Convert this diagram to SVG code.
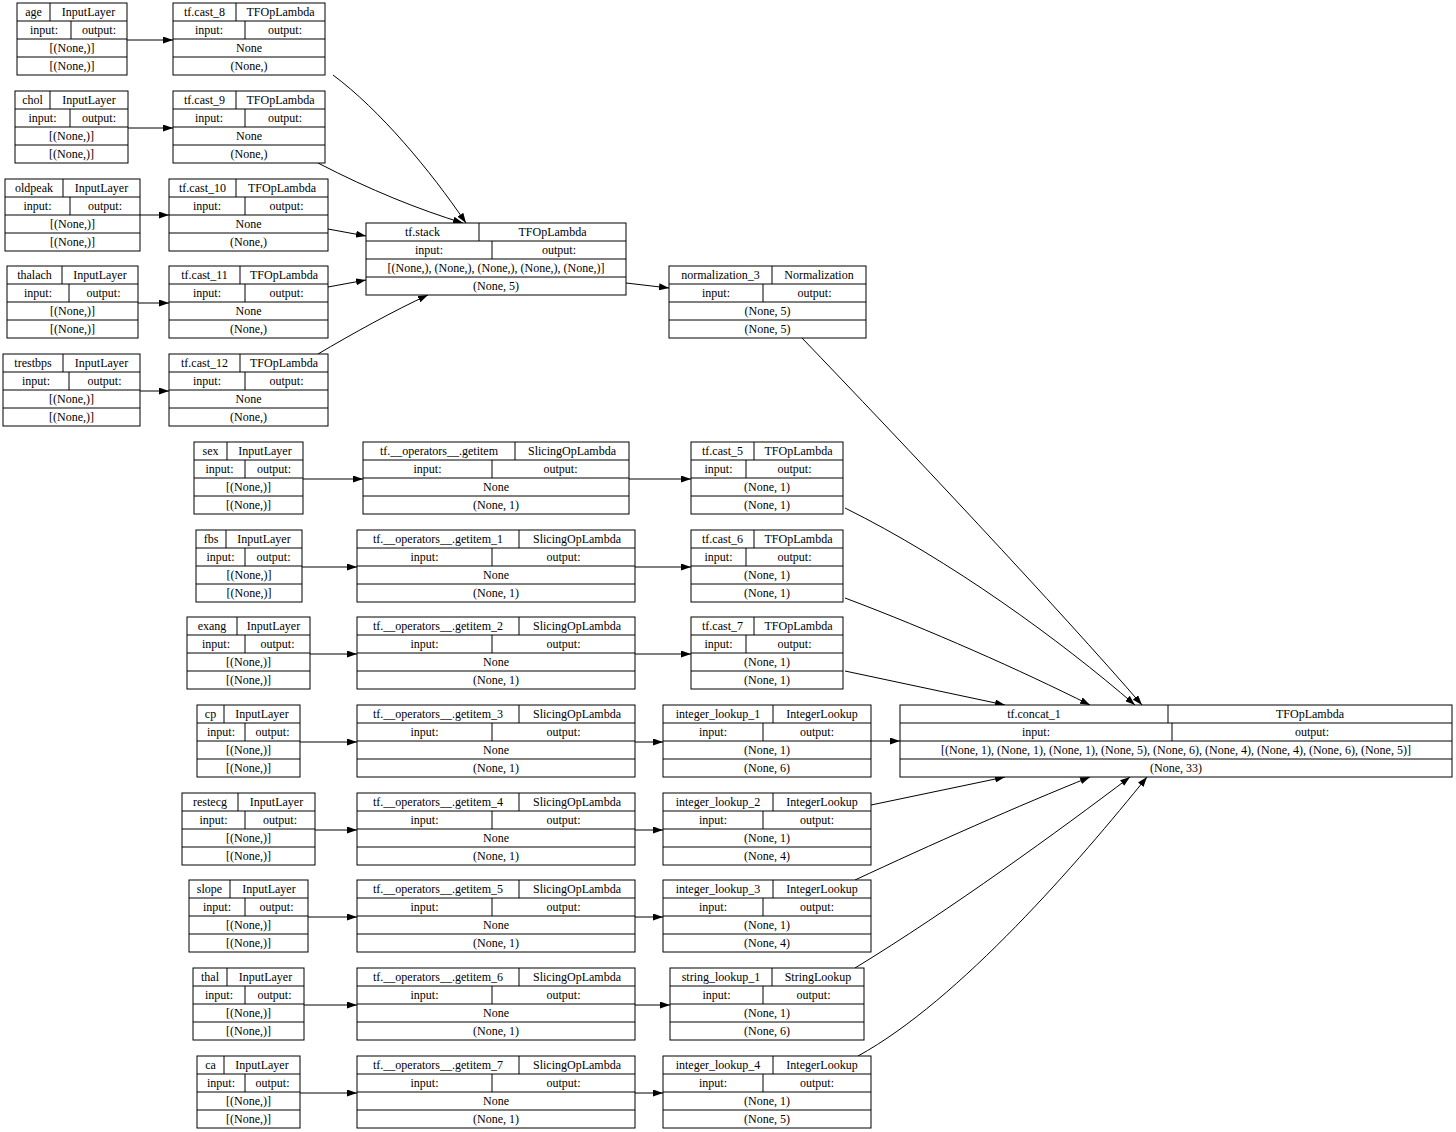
<svg xmlns="http://www.w3.org/2000/svg" width="1456" height="1132" viewBox="0 0 1456 1132">
<defs>
<style>
rect{fill:#fff;stroke:#000;stroke-width:1}
.n line{stroke:#000;stroke-width:1}
text{font-family:"Liberation Serif","DejaVu Serif",serif;font-size:12px;text-anchor:middle;fill:#000}
.e path{fill:none;stroke:#000;stroke-width:1;marker-end:url(#a)}
</style>
<marker id="a" markerWidth="10" markerHeight="7" refX="10" refY="3.5" orient="auto" markerUnits="userSpaceOnUse"><path d="M0,0 L10,3.5 L0,7z" fill="#000"/></marker>
</defs>
<rect x="0" y="0" width="1456" height="1132" style="stroke:none"/>

<g class="e" id="edges">
<path d="M127,40 L173,40"/>
<path d="M128,128 L173,128"/>
<path d="M140,215 L169,215"/>
<path d="M138,303 L169,303"/>
<path d="M140,391 L169,391"/>
<path d="M333,75 C380,110 430,170 466,223"/>
<path d="M318,163 C370,190 420,210 463,223"/>
<path d="M328,229 L366,236"/>
<path d="M328,287 L366,280"/>
<path d="M318,354 C350,335 395,310 428,295"/>
<path d="M626,283 L669,288"/>
<path d="M802,338 C900,440 1060,610 1142,705"/>
<path d="M303,479 L363,479"/>
<path d="M629,479 L691,479"/>
<path d="M302,567 L357,567"/>
<path d="M635,567 L691,567"/>
<path d="M310,654 L357,654"/>
<path d="M635,654 L691,654"/>
<path d="M300,742 L357,742"/>
<path d="M635,742 L663,742"/>
<path d="M315,830 L357,830"/>
<path d="M635,830 L663,830"/>
<path d="M308,917 L357,917"/>
<path d="M635,917 L663,917"/>
<path d="M304,1005 L357,1005"/>
<path d="M635,1005 L670,1005"/>
<path d="M300,1093 L357,1093"/>
<path d="M635,1093 L663,1093"/>
<path d="M845,508 C950,560 1060,640 1135,705"/>
<path d="M845,598 C930,630 1020,670 1090,705"/>
<path d="M845,671 L1005,705"/>
<path d="M871,741 L900,741"/>
<path d="M871,805 L1005,777"/>
<path d="M855,880 C930,845 1020,805 1090,777"/>
<path d="M855,968 C950,910 1060,830 1130,777"/>
<path d="M858,1056 C960,1000 1080,860 1147,777"/>
</g>

<g class="n" id="age" transform="translate(17,3)"><rect width="110" height="72"/><line x1="0" y1="18" x2="110" y2="18"/><line x1="0" y1="36" x2="110" y2="36"/><line x1="0" y1="54" x2="110" y2="54"/><line x1="33" y1="0" x2="33" y2="18"/><line x1="54" y1="18" x2="54" y2="36"/><text x="16.5" y="13">age</text><text x="71.5" y="13">InputLayer</text><text x="27" y="31">input:</text><text x="82" y="31">output:</text><text x="55" y="49">[(None,)]</text><text x="55" y="67">[(None,)]</text></g>
<g class="n" id="cast8" transform="translate(173,3)"><rect width="152" height="72"/><line x1="0" y1="18" x2="152" y2="18"/><line x1="0" y1="36" x2="152" y2="36"/><line x1="0" y1="54" x2="152" y2="54"/><line x1="63" y1="0" x2="63" y2="18"/><line x1="72" y1="18" x2="72" y2="36"/><text x="31.5" y="13">tf.cast_8</text><text x="107.5" y="13">TFOpLambda</text><text x="36" y="31">input:</text><text x="112" y="31">output:</text><text x="76" y="49">None</text><text x="76" y="67">(None,)</text></g>

<g class="n" id="chol" transform="translate(15,91)"><rect width="113" height="72"/><line x1="0" y1="18" x2="113" y2="18"/><line x1="0" y1="36" x2="113" y2="36"/><line x1="0" y1="54" x2="113" y2="54"/><line x1="35" y1="0" x2="35" y2="18"/><line x1="55" y1="18" x2="55" y2="36"/><text x="17.5" y="13">chol</text><text x="74" y="13">InputLayer</text><text x="27.5" y="31">input:</text><text x="84" y="31">output:</text><text x="56.5" y="49">[(None,)]</text><text x="56.5" y="67">[(None,)]</text></g>
<g class="n" id="cast9" transform="translate(173,91)"><rect width="152" height="72"/><line x1="0" y1="18" x2="152" y2="18"/><line x1="0" y1="36" x2="152" y2="36"/><line x1="0" y1="54" x2="152" y2="54"/><line x1="63" y1="0" x2="63" y2="18"/><line x1="72" y1="18" x2="72" y2="36"/><text x="31.5" y="13">tf.cast_9</text><text x="107.5" y="13">TFOpLambda</text><text x="36" y="31">input:</text><text x="112" y="31">output:</text><text x="76" y="49">None</text><text x="76" y="67">(None,)</text></g>

<g class="n" id="oldpeak" transform="translate(5,179)"><rect width="135" height="72"/><line x1="0" y1="18" x2="135" y2="18"/><line x1="0" y1="36" x2="135" y2="36"/><line x1="0" y1="54" x2="135" y2="54"/><line x1="58" y1="0" x2="58" y2="18"/><line x1="65" y1="18" x2="65" y2="36"/><text x="29" y="13">oldpeak</text><text x="96.5" y="13">InputLayer</text><text x="32.5" y="31">input:</text><text x="100" y="31">output:</text><text x="67.5" y="49">[(None,)]</text><text x="67.5" y="67">[(None,)]</text></g>
<g class="n" id="cast10" transform="translate(169,179)"><rect width="159" height="72"/><line x1="0" y1="18" x2="159" y2="18"/><line x1="0" y1="36" x2="159" y2="36"/><line x1="0" y1="54" x2="159" y2="54"/><line x1="67" y1="0" x2="67" y2="18"/><line x1="76" y1="18" x2="76" y2="36"/><text x="33.5" y="13">tf.cast_10</text><text x="113" y="13">TFOpLambda</text><text x="38" y="31">input:</text><text x="117.5" y="31">output:</text><text x="79.5" y="49">None</text><text x="79.5" y="67">(None,)</text></g>

<g class="n" id="thalach" transform="translate(7,266)"><rect width="131" height="72"/><line x1="0" y1="18" x2="131" y2="18"/><line x1="0" y1="36" x2="131" y2="36"/><line x1="0" y1="54" x2="131" y2="54"/><line x1="55" y1="0" x2="55" y2="18"/><line x1="62" y1="18" x2="62" y2="36"/><text x="27.5" y="13">thalach</text><text x="93" y="13">InputLayer</text><text x="31" y="31">input:</text><text x="96.5" y="31">output:</text><text x="65.5" y="49">[(None,)]</text><text x="65.5" y="67">[(None,)]</text></g>
<g class="n" id="cast11" transform="translate(169,266)"><rect width="159" height="72"/><line x1="0" y1="18" x2="159" y2="18"/><line x1="0" y1="36" x2="159" y2="36"/><line x1="0" y1="54" x2="159" y2="54"/><line x1="71" y1="0" x2="71" y2="18"/><line x1="76" y1="18" x2="76" y2="36"/><text x="35.5" y="13">tf.cast_11</text><text x="115" y="13">TFOpLambda</text><text x="38" y="31">input:</text><text x="117.5" y="31">output:</text><text x="79.5" y="49">None</text><text x="79.5" y="67">(None,)</text></g>

<g class="n" id="trestbps" transform="translate(3,354)"><rect width="137" height="72"/><line x1="0" y1="18" x2="137" y2="18"/><line x1="0" y1="36" x2="137" y2="36"/><line x1="0" y1="54" x2="137" y2="54"/><line x1="60" y1="0" x2="60" y2="18"/><line x1="66" y1="18" x2="66" y2="36"/><text x="30" y="13">trestbps</text><text x="98.5" y="13">InputLayer</text><text x="33" y="31">input:</text><text x="101.5" y="31">output:</text><text x="68.5" y="49">[(None,)]</text><text x="68.5" y="67">[(None,)]</text></g>
<g class="n" id="cast12" transform="translate(169,354)"><rect width="159" height="72"/><line x1="0" y1="18" x2="159" y2="18"/><line x1="0" y1="36" x2="159" y2="36"/><line x1="0" y1="54" x2="159" y2="54"/><line x1="71" y1="0" x2="71" y2="18"/><line x1="76" y1="18" x2="76" y2="36"/><text x="35.5" y="13">tf.cast_12</text><text x="115" y="13">TFOpLambda</text><text x="38" y="31">input:</text><text x="117.5" y="31">output:</text><text x="79.5" y="49">None</text><text x="79.5" y="67">(None,)</text></g>

<g class="n" id="stack" transform="translate(366,223)"><rect width="260" height="72"/><line x1="0" y1="18" x2="260" y2="18"/><line x1="0" y1="36" x2="260" y2="36"/><line x1="0" y1="54" x2="260" y2="54"/><line x1="113" y1="0" x2="113" y2="18"/><line x1="126" y1="18" x2="126" y2="36"/><text x="56.5" y="13">tf.stack</text><text x="186.5" y="13">TFOpLambda</text><text x="63" y="31">input:</text><text x="193" y="31">output:</text><text x="130" y="49">[(None,), (None,), (None,), (None,), (None,)]</text><text x="130" y="67">(None, 5)</text></g>

<g class="n" id="norm" transform="translate(669,266)"><rect width="197" height="72"/><line x1="0" y1="18" x2="197" y2="18"/><line x1="0" y1="36" x2="197" y2="36"/><line x1="0" y1="54" x2="197" y2="54"/><line x1="103" y1="0" x2="103" y2="18"/><line x1="94" y1="18" x2="94" y2="36"/><text x="51.5" y="13">normalization_3</text><text x="150" y="13">Normalization</text><text x="47" y="31">input:</text><text x="145.5" y="31">output:</text><text x="98.5" y="49">(None, 5)</text><text x="98.5" y="67">(None, 5)</text></g>

<g class="n" id="sex" transform="translate(194,442)"><rect width="109" height="72"/><line x1="0" y1="18" x2="109" y2="18"/><line x1="0" y1="36" x2="109" y2="36"/><line x1="0" y1="54" x2="109" y2="54"/><line x1="33" y1="0" x2="33" y2="18"/><line x1="51" y1="18" x2="51" y2="36"/><text x="16.5" y="13">sex</text><text x="71" y="13">InputLayer</text><text x="25.5" y="31">input:</text><text x="80" y="31">output:</text><text x="54.5" y="49">[(None,)]</text><text x="54.5" y="67">[(None,)]</text></g>
<g class="n" id="getitem" transform="translate(363,442)"><rect width="266" height="72"/><line x1="0" y1="18" x2="266" y2="18"/><line x1="0" y1="36" x2="266" y2="36"/><line x1="0" y1="54" x2="266" y2="54"/><line x1="152" y1="0" x2="152" y2="18"/><line x1="129" y1="18" x2="129" y2="36"/><text x="76" y="13">tf.__operators__.getitem</text><text x="209" y="13">SlicingOpLambda</text><text x="64.5" y="31">input:</text><text x="197.5" y="31">output:</text><text x="133" y="49">None</text><text x="133" y="67">(None, 1)</text></g>
<g class="n" id="cast5" transform="translate(691,442)"><rect width="152" height="72"/><line x1="0" y1="18" x2="152" y2="18"/><line x1="0" y1="36" x2="152" y2="36"/><line x1="0" y1="54" x2="152" y2="54"/><line x1="63" y1="0" x2="63" y2="18"/><line x1="55" y1="18" x2="55" y2="36"/><text x="31.5" y="13">tf.cast_5</text><text x="107.5" y="13">TFOpLambda</text><text x="27.5" y="31">input:</text><text x="103.5" y="31">output:</text><text x="76" y="49">(None, 1)</text><text x="76" y="67">(None, 1)</text></g>

<g class="n" id="fbs" transform="translate(196,530)"><rect width="106" height="72"/><line x1="0" y1="18" x2="106" y2="18"/><line x1="0" y1="36" x2="106" y2="36"/><line x1="0" y1="54" x2="106" y2="54"/><line x1="30" y1="0" x2="30" y2="18"/><line x1="49" y1="18" x2="49" y2="36"/><text x="15" y="13">fbs</text><text x="68" y="13">InputLayer</text><text x="24.5" y="31">input:</text><text x="77.5" y="31">output:</text><text x="53" y="49">[(None,)]</text><text x="53" y="67">[(None,)]</text></g>
<g class="n" id="getitem1" transform="translate(357,530)"><rect width="278" height="72"/><line x1="0" y1="18" x2="278" y2="18"/><line x1="0" y1="36" x2="278" y2="36"/><line x1="0" y1="54" x2="278" y2="54"/><line x1="162" y1="0" x2="162" y2="18"/><line x1="135" y1="18" x2="135" y2="36"/><text x="81" y="13">tf.__operators__.getitem_1</text><text x="220" y="13">SlicingOpLambda</text><text x="67.5" y="31">input:</text><text x="206.5" y="31">output:</text><text x="139" y="49">None</text><text x="139" y="67">(None, 1)</text></g>
<g class="n" id="cast6" transform="translate(691,530)"><rect width="152" height="72"/><line x1="0" y1="18" x2="152" y2="18"/><line x1="0" y1="36" x2="152" y2="36"/><line x1="0" y1="54" x2="152" y2="54"/><line x1="63" y1="0" x2="63" y2="18"/><line x1="55" y1="18" x2="55" y2="36"/><text x="31.5" y="13">tf.cast_6</text><text x="107.5" y="13">TFOpLambda</text><text x="27.5" y="31">input:</text><text x="103.5" y="31">output:</text><text x="76" y="49">(None, 1)</text><text x="76" y="67">(None, 1)</text></g>

<g class="n" id="exang" transform="translate(187,617)"><rect width="123" height="72"/><line x1="0" y1="18" x2="123" y2="18"/><line x1="0" y1="36" x2="123" y2="36"/><line x1="0" y1="54" x2="123" y2="54"/><line x1="50" y1="0" x2="50" y2="18"/><line x1="58" y1="18" x2="58" y2="36"/><text x="25" y="13">exang</text><text x="86.5" y="13">InputLayer</text><text x="29" y="31">input:</text><text x="90.5" y="31">output:</text><text x="61.5" y="49">[(None,)]</text><text x="61.5" y="67">[(None,)]</text></g>
<g class="n" id="getitem2" transform="translate(357,617)"><rect width="278" height="72"/><line x1="0" y1="18" x2="278" y2="18"/><line x1="0" y1="36" x2="278" y2="36"/><line x1="0" y1="54" x2="278" y2="54"/><line x1="162" y1="0" x2="162" y2="18"/><line x1="135" y1="18" x2="135" y2="36"/><text x="81" y="13">tf.__operators__.getitem_2</text><text x="220" y="13">SlicingOpLambda</text><text x="67.5" y="31">input:</text><text x="206.5" y="31">output:</text><text x="139" y="49">None</text><text x="139" y="67">(None, 1)</text></g>
<g class="n" id="cast7" transform="translate(691,617)"><rect width="152" height="72"/><line x1="0" y1="18" x2="152" y2="18"/><line x1="0" y1="36" x2="152" y2="36"/><line x1="0" y1="54" x2="152" y2="54"/><line x1="63" y1="0" x2="63" y2="18"/><line x1="55" y1="18" x2="55" y2="36"/><text x="31.5" y="13">tf.cast_7</text><text x="107.5" y="13">TFOpLambda</text><text x="27.5" y="31">input:</text><text x="103.5" y="31">output:</text><text x="76" y="49">(None, 1)</text><text x="76" y="67">(None, 1)</text></g>

<g class="n" id="cp" transform="translate(197,705)"><rect width="103" height="72"/><line x1="0" y1="18" x2="103" y2="18"/><line x1="0" y1="36" x2="103" y2="36"/><line x1="0" y1="54" x2="103" y2="54"/><line x1="27" y1="0" x2="27" y2="18"/><line x1="48" y1="18" x2="48" y2="36"/><text x="13.5" y="13">cp</text><text x="65" y="13">InputLayer</text><text x="24" y="31">input:</text><text x="75.5" y="31">output:</text><text x="51.5" y="49">[(None,)]</text><text x="51.5" y="67">[(None,)]</text></g>
<g class="n" id="getitem3" transform="translate(357,705)"><rect width="278" height="72"/><line x1="0" y1="18" x2="278" y2="18"/><line x1="0" y1="36" x2="278" y2="36"/><line x1="0" y1="54" x2="278" y2="54"/><line x1="162" y1="0" x2="162" y2="18"/><line x1="135" y1="18" x2="135" y2="36"/><text x="81" y="13">tf.__operators__.getitem_3</text><text x="220" y="13">SlicingOpLambda</text><text x="67.5" y="31">input:</text><text x="206.5" y="31">output:</text><text x="139" y="49">None</text><text x="139" y="67">(None, 1)</text></g>
<g class="n" id="il1" transform="translate(663,705)"><rect width="208" height="72"/><line x1="0" y1="18" x2="208" y2="18"/><line x1="0" y1="36" x2="208" y2="36"/><line x1="0" y1="54" x2="208" y2="54"/><line x1="110" y1="0" x2="110" y2="18"/><line x1="100" y1="18" x2="100" y2="36"/><text x="55" y="13">integer_lookup_1</text><text x="159" y="13">IntegerLookup</text><text x="50" y="31">input:</text><text x="154" y="31">output:</text><text x="104" y="49">(None, 1)</text><text x="104" y="67">(None, 6)</text></g>

<g class="n" id="restecg" transform="translate(182,793)"><rect width="133" height="72"/><line x1="0" y1="18" x2="133" y2="18"/><line x1="0" y1="36" x2="133" y2="36"/><line x1="0" y1="54" x2="133" y2="54"/><line x1="56" y1="0" x2="56" y2="18"/><line x1="63" y1="18" x2="63" y2="36"/><text x="28" y="13">restecg</text><text x="94.5" y="13">InputLayer</text><text x="31.5" y="31">input:</text><text x="98" y="31">output:</text><text x="66.5" y="49">[(None,)]</text><text x="66.5" y="67">[(None,)]</text></g>
<g class="n" id="getitem4" transform="translate(357,793)"><rect width="278" height="72"/><line x1="0" y1="18" x2="278" y2="18"/><line x1="0" y1="36" x2="278" y2="36"/><line x1="0" y1="54" x2="278" y2="54"/><line x1="162" y1="0" x2="162" y2="18"/><line x1="135" y1="18" x2="135" y2="36"/><text x="81" y="13">tf.__operators__.getitem_4</text><text x="220" y="13">SlicingOpLambda</text><text x="67.5" y="31">input:</text><text x="206.5" y="31">output:</text><text x="139" y="49">None</text><text x="139" y="67">(None, 1)</text></g>
<g class="n" id="il2" transform="translate(663,793)"><rect width="208" height="72"/><line x1="0" y1="18" x2="208" y2="18"/><line x1="0" y1="36" x2="208" y2="36"/><line x1="0" y1="54" x2="208" y2="54"/><line x1="110" y1="0" x2="110" y2="18"/><line x1="100" y1="18" x2="100" y2="36"/><text x="55" y="13">integer_lookup_2</text><text x="159" y="13">IntegerLookup</text><text x="50" y="31">input:</text><text x="154" y="31">output:</text><text x="104" y="49">(None, 1)</text><text x="104" y="67">(None, 4)</text></g>

<g class="n" id="slope" transform="translate(189,880)"><rect width="119" height="72"/><line x1="0" y1="18" x2="119" y2="18"/><line x1="0" y1="36" x2="119" y2="36"/><line x1="0" y1="54" x2="119" y2="54"/><line x1="41" y1="0" x2="41" y2="18"/><line x1="56" y1="18" x2="56" y2="36"/><text x="20.5" y="13">slope</text><text x="80" y="13">InputLayer</text><text x="28" y="31">input:</text><text x="87.5" y="31">output:</text><text x="59.5" y="49">[(None,)]</text><text x="59.5" y="67">[(None,)]</text></g>
<g class="n" id="getitem5" transform="translate(357,880)"><rect width="278" height="72"/><line x1="0" y1="18" x2="278" y2="18"/><line x1="0" y1="36" x2="278" y2="36"/><line x1="0" y1="54" x2="278" y2="54"/><line x1="162" y1="0" x2="162" y2="18"/><line x1="135" y1="18" x2="135" y2="36"/><text x="81" y="13">tf.__operators__.getitem_5</text><text x="220" y="13">SlicingOpLambda</text><text x="67.5" y="31">input:</text><text x="206.5" y="31">output:</text><text x="139" y="49">None</text><text x="139" y="67">(None, 1)</text></g>
<g class="n" id="il3" transform="translate(663,880)"><rect width="208" height="72"/><line x1="0" y1="18" x2="208" y2="18"/><line x1="0" y1="36" x2="208" y2="36"/><line x1="0" y1="54" x2="208" y2="54"/><line x1="110" y1="0" x2="110" y2="18"/><line x1="100" y1="18" x2="100" y2="36"/><text x="55" y="13">integer_lookup_3</text><text x="159" y="13">IntegerLookup</text><text x="50" y="31">input:</text><text x="154" y="31">output:</text><text x="104" y="49">(None, 1)</text><text x="104" y="67">(None, 4)</text></g>

<g class="n" id="thal" transform="translate(193,968)"><rect width="111" height="72"/><line x1="0" y1="18" x2="111" y2="18"/><line x1="0" y1="36" x2="111" y2="36"/><line x1="0" y1="54" x2="111" y2="54"/><line x1="34" y1="0" x2="34" y2="18"/><line x1="52" y1="18" x2="52" y2="36"/><text x="17" y="13">thal</text><text x="72.5" y="13">InputLayer</text><text x="26" y="31">input:</text><text x="81.5" y="31">output:</text><text x="55.5" y="49">[(None,)]</text><text x="55.5" y="67">[(None,)]</text></g>
<g class="n" id="getitem6" transform="translate(357,968)"><rect width="278" height="72"/><line x1="0" y1="18" x2="278" y2="18"/><line x1="0" y1="36" x2="278" y2="36"/><line x1="0" y1="54" x2="278" y2="54"/><line x1="162" y1="0" x2="162" y2="18"/><line x1="135" y1="18" x2="135" y2="36"/><text x="81" y="13">tf.__operators__.getitem_6</text><text x="220" y="13">SlicingOpLambda</text><text x="67.5" y="31">input:</text><text x="206.5" y="31">output:</text><text x="139" y="49">None</text><text x="139" y="67">(None, 1)</text></g>
<g class="n" id="sl1" transform="translate(670,968)"><rect width="194" height="72"/><line x1="0" y1="18" x2="194" y2="18"/><line x1="0" y1="36" x2="194" y2="36"/><line x1="0" y1="54" x2="194" y2="54"/><line x1="102" y1="0" x2="102" y2="18"/><line x1="93" y1="18" x2="93" y2="36"/><text x="51" y="13">string_lookup_1</text><text x="148" y="13">StringLookup</text><text x="46.5" y="31">input:</text><text x="143.5" y="31">output:</text><text x="97" y="49">(None, 1)</text><text x="97" y="67">(None, 6)</text></g>

<g class="n" id="ca" transform="translate(197,1056)"><rect width="103" height="72"/><line x1="0" y1="18" x2="103" y2="18"/><line x1="0" y1="36" x2="103" y2="36"/><line x1="0" y1="54" x2="103" y2="54"/><line x1="27" y1="0" x2="27" y2="18"/><line x1="48" y1="18" x2="48" y2="36"/><text x="13.5" y="13">ca</text><text x="65" y="13">InputLayer</text><text x="24" y="31">input:</text><text x="75.5" y="31">output:</text><text x="51.5" y="49">[(None,)]</text><text x="51.5" y="67">[(None,)]</text></g>
<g class="n" id="getitem7" transform="translate(357,1056)"><rect width="278" height="72"/><line x1="0" y1="18" x2="278" y2="18"/><line x1="0" y1="36" x2="278" y2="36"/><line x1="0" y1="54" x2="278" y2="54"/><line x1="162" y1="0" x2="162" y2="18"/><line x1="135" y1="18" x2="135" y2="36"/><text x="81" y="13">tf.__operators__.getitem_7</text><text x="220" y="13">SlicingOpLambda</text><text x="67.5" y="31">input:</text><text x="206.5" y="31">output:</text><text x="139" y="49">None</text><text x="139" y="67">(None, 1)</text></g>
<g class="n" id="il4" transform="translate(663,1056)"><rect width="208" height="72"/><line x1="0" y1="18" x2="208" y2="18"/><line x1="0" y1="36" x2="208" y2="36"/><line x1="0" y1="54" x2="208" y2="54"/><line x1="110" y1="0" x2="110" y2="18"/><line x1="100" y1="18" x2="100" y2="36"/><text x="55" y="13">integer_lookup_4</text><text x="159" y="13">IntegerLookup</text><text x="50" y="31">input:</text><text x="154" y="31">output:</text><text x="104" y="49">(None, 1)</text><text x="104" y="67">(None, 5)</text></g>

<g class="n" id="concat" transform="translate(900,705)"><rect width="552" height="72"/><line x1="0" y1="18" x2="552" y2="18"/><line x1="0" y1="36" x2="552" y2="36"/><line x1="0" y1="54" x2="552" y2="54"/><line x1="268" y1="0" x2="268" y2="18"/><line x1="272" y1="18" x2="272" y2="36"/><text x="134" y="13">tf.concat_1</text><text x="410" y="13">TFOpLambda</text><text x="136" y="31">input:</text><text x="412" y="31">output:</text><text x="276" y="49">[(None, 1), (None, 1), (None, 1), (None, 5), (None, 6), (None, 4), (None, 4), (None, 6), (None, 5)]</text><text x="276" y="67">(None, 33)</text></g>
</svg>
